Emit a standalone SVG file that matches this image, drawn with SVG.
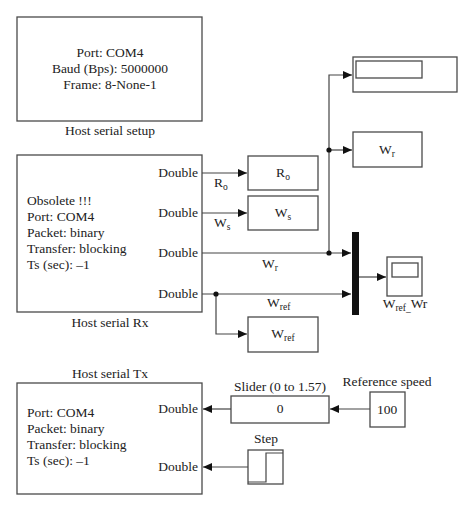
<svg xmlns="http://www.w3.org/2000/svg" width="474" height="511" viewBox="0 0 474 511">
<style>
.blk{fill:#fff;stroke:#4a4a4a;stroke-width:1.3}
.t{font-family:"Liberation Serif","Times New Roman",serif;font-size:13.5px;fill:#222}
.c{text-anchor:middle}
.r{text-anchor:end}
.sub{font-size:9.5px}
.ln{fill:none;stroke:#444;stroke-width:1.2}
.dot{fill:#111}
</style>
<defs>
<marker id="ah" markerUnits="userSpaceOnUse" markerWidth="10" markerHeight="8" refX="9" refY="4" orient="auto">
<path d="M0,0 L9,4 L0,8 Z" fill="#111"/>
</marker>
</defs>
<rect width="474" height="511" fill="#fff"/>

<g id="host-serial-setup">
<rect class="blk" x="17" y="17" width="185" height="104"/>
<text class="t c" x="110" y="57">Port: COM4</text>
<text class="t c" x="110" y="73">Baud (Bps): 5000000</text>
<text class="t c" x="110" y="89">Frame: 8-None-1</text>
<text class="t c" x="110" y="135">Host serial setup</text>
</g>

<g id="host-serial-rx">
<rect class="blk" x="17" y="155" width="185" height="157"/>
<text class="t" x="27" y="205">Obsolete !!!</text>
<text class="t" x="27" y="221">Port: COM4</text>
<text class="t" x="27" y="237">Packet: binary</text>
<text class="t" x="27" y="253">Transfer: blocking</text>
<text class="t" x="27" y="269">Ts (sec): –1</text>
<text class="t r" x="198" y="177">Double</text>
<text class="t r" x="198" y="217">Double</text>
<text class="t r" x="198" y="257">Double</text>
<text class="t r" x="198" y="298">Double</text>
<text class="t c" x="110" y="327">Host serial Rx</text>
</g>

<g id="display-top">
<rect class="blk" x="353" y="57" width="104" height="35"/>
<rect class="blk" x="356" y="61" width="66" height="17"/>
</g>

<g id="display-wr">
<rect class="blk" x="353" y="132" width="69" height="35"/>
<text class="t c" x="387" y="154">W<tspan class="sub" dy="3">r</tspan></text>
</g>

<g id="display-ro">
<rect class="blk" x="248" y="156" width="70" height="34"/>
<text class="t c" x="283" y="177">R<tspan class="sub" dy="3">o</tspan></text>
</g>

<g id="display-ws">
<rect class="blk" x="248" y="196" width="70" height="34"/>
<text class="t c" x="283" y="217">W<tspan class="sub" dy="3">s</tspan></text>
</g>

<g id="display-wref">
<rect class="blk" x="248" y="317" width="70" height="35"/>
<text class="t c" x="283" y="338">W<tspan class="sub" dy="3">ref</tspan></text>
</g>

<g id="mux">
<rect x="352" y="232" width="7" height="83" fill="#111"/>
</g>

<g id="scope">
<rect class="blk" x="387" y="257" width="35" height="39"/>
<rect class="blk" x="392" y="263" width="26" height="14"/>
<text class="t c" x="405" y="308">W<tspan class="sub" dy="3">ref_</tspan><tspan dy="-3">Wr</tspan></text>
</g>

<g id="host-serial-tx">
<rect class="blk" x="17" y="383" width="185" height="111"/>
<text class="t c" x="110" y="378">Host serial Tx</text>
<text class="t" x="27" y="417">Port: COM4</text>
<text class="t" x="27" y="433">Packet: binary</text>
<text class="t" x="27" y="449">Transfer: blocking</text>
<text class="t" x="27" y="465">Ts (sec): –1</text>
<text class="t r" x="198" y="413">Double</text>
<text class="t r" x="198" y="471">Double</text>
</g>

<g id="slider">
<rect class="blk" x="231" y="396" width="98" height="27"/>
<text class="t c" x="280" y="413">0</text>
<text class="t c" x="280" y="391">Slider (0 to 1.57)</text>
</g>

<g id="reference-speed">
<rect class="blk" x="370" y="392" width="35" height="35"/>
<text class="t c" x="387" y="414">100</text>
<text class="t c" x="387" y="386">Reference speed</text>
</g>

<g id="step">
<rect class="blk" x="248" y="450" width="35" height="34"/>
<path class="ln" d="M248,482 H266 V453 H283"/>
<text class="t c" x="266" y="443">Step</text>
</g>

<g id="connectors">
<path class="ln" d="M202,173 H247" marker-end="url(#ah)"/>
<path class="ln" d="M202,213 H247" marker-end="url(#ah)"/>
<path class="ln" d="M202,253 H351" marker-end="url(#ah)"/>
<path class="ln" d="M329,253 V75 H352" marker-end="url(#ah)"/>
<path class="ln" d="M329,150 H352" marker-end="url(#ah)"/>
<path class="ln" d="M202,294 H351" marker-end="url(#ah)"/>
<path class="ln" d="M216,294 V334 H247" marker-end="url(#ah)"/>
<path class="ln" d="M359,277 H386" marker-end="url(#ah)"/>
<path class="ln" d="M370,409 H330" marker-end="url(#ah)"/>
<path class="ln" d="M231,409 H203" marker-end="url(#ah)"/>
<path class="ln" d="M248,467 H203" marker-end="url(#ah)"/>
<circle class="dot" cx="329" cy="253" r="2.6"/>
<circle class="dot" cx="329" cy="150" r="2.6"/>
<circle class="dot" cx="216" cy="294" r="2.6"/>
<text class="t" x="214" y="187">R<tspan class="sub" dy="3">o</tspan></text>
<text class="t" x="214" y="227">W<tspan class="sub" dy="3">s</tspan></text>
<text class="t" x="262" y="268">W<tspan class="sub" dy="3">r</tspan></text>
<text class="t" x="267" y="307">W<tspan class="sub" dy="3">ref</tspan></text>
</g>
</svg>
